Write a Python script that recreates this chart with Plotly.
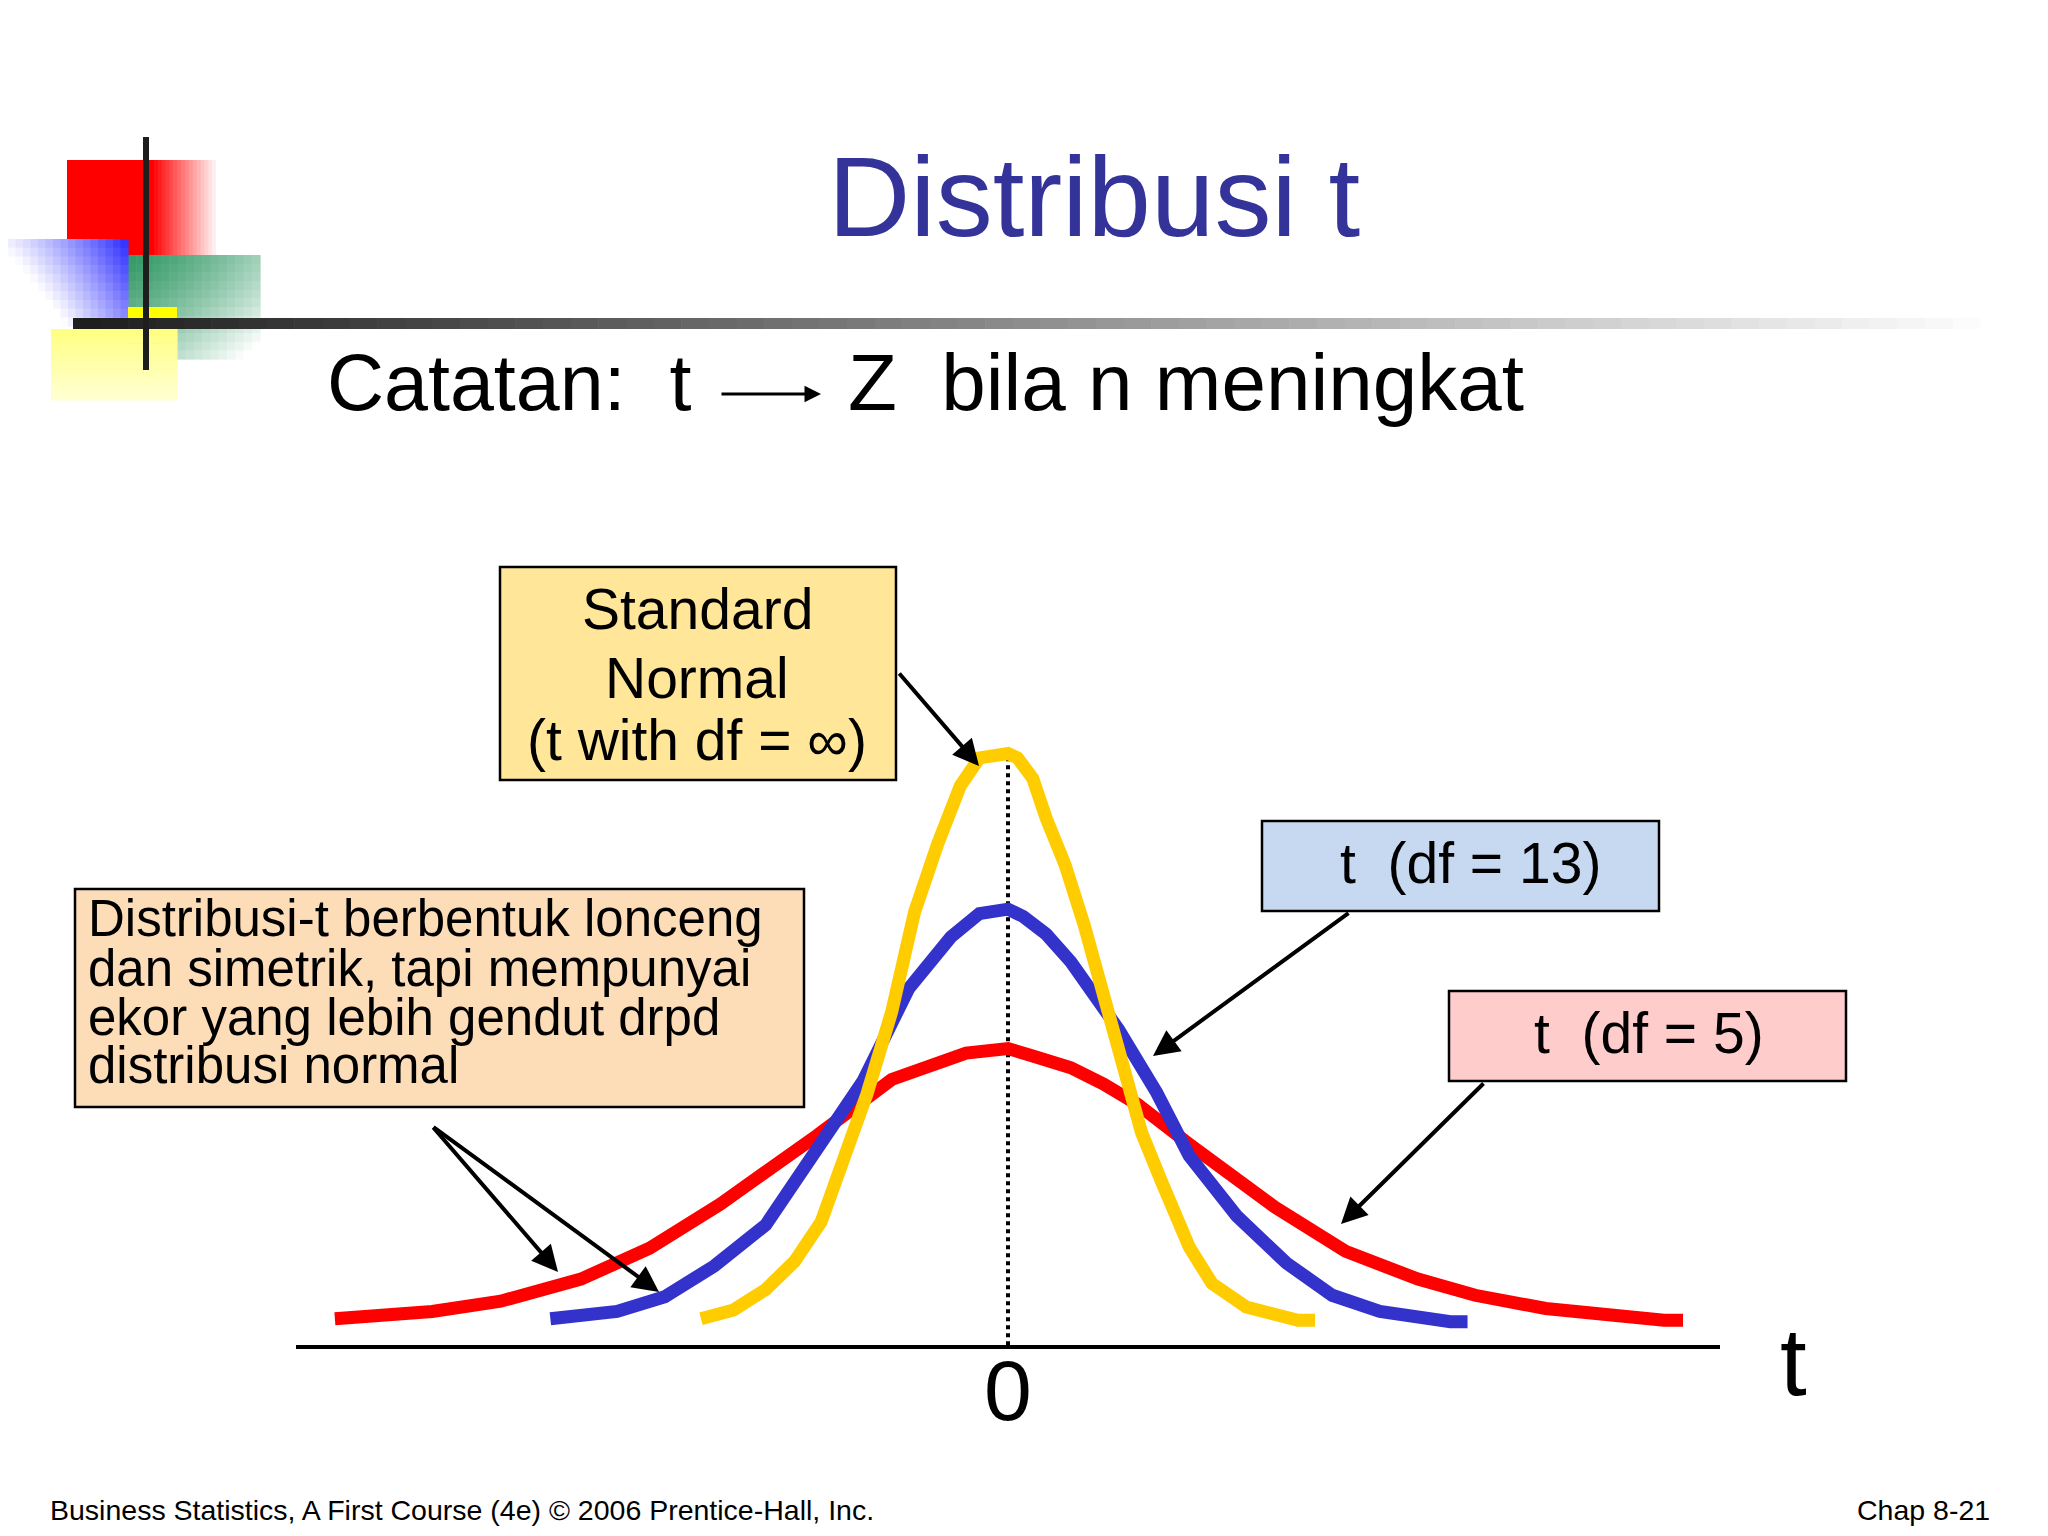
import plotly.graph_objects as go

W, H = 2048, 1536
FONT = "Liberation Sans, Arial, sans-serif"

# ---- data (t on x, density-like height on y) ----

normal_x = [-1.61, -1.44, -1.27, -1.12, -0.98, -0.86, -0.74, -0.61, -0.49, -0.37,
            -0.25, -0.15, 0.0, 0.05, 0.13, 0.20, 0.30, 0.40, 0.50, 0.60,
            0.70, 0.80, 0.95, 1.07, 1.25, 1.52, 1.61]
normal_y = [0.018, 0.024, 0.038, 0.057, 0.084, 0.125, 0.171, 0.227, 0.295, 0.341,
            0.381, 0.400, 0.403, 0.400, 0.386, 0.359, 0.327, 0.286, 0.238, 0.186,
            0.145, 0.113, 0.067, 0.042, 0.026, 0.017, 0.017]

t13_x = [-2.40, -2.05, -1.80, -1.54, -1.27, -1.00, -0.76, -0.52, -0.30, -0.15,
         0.0, 0.08, 0.20, 0.33, 0.45, 0.58, 0.78, 0.95, 1.20, 1.46,
         1.70, 1.95, 2.32, 2.41]
t13_y = [0.018, 0.023, 0.033, 0.054, 0.082, 0.132, 0.180, 0.243, 0.278, 0.294,
         0.297, 0.292, 0.280, 0.261, 0.240, 0.215, 0.172, 0.129, 0.088, 0.056,
         0.034, 0.023, 0.016, 0.016]

t5_x = [-3.53, -3.02, -2.66, -2.24, -1.88, -1.51, -1.00, -0.61, -0.22, 0.0,
        0.13, 0.33, 0.50, 0.68, 0.95, 1.40, 1.77, 2.15, 2.45, 2.82,
        3.44, 3.54]
t5_y = [0.018, 0.023, 0.030, 0.045, 0.066, 0.096, 0.143, 0.181, 0.199, 0.202,
        0.197, 0.189, 0.178, 0.164, 0.137, 0.094, 0.064, 0.045, 0.034, 0.025,
        0.017, 0.017]

center_x = [0, 0]
center_y = [0, 0.403]

tick_vals = [0]
tick_text = ["0"]

TITLE = "Distribusi t"
NOTE_LEFT = "Catatan:\u00a0 t"
NOTE_RIGHT = "Z\u00a0 bila n meningkat"
BOX_NORMAL = ["Standard", "Normal", "(t with df = \u221e)"]
BOX_T13 = "t\u00a0 (df = 13)"
BOX_T5 = "t\u00a0 (df = 5)"
BOX_TAILS = ["Distribusi-t berbentuk lonceng",
             "dan simetrik, tapi mempunyai",
             "ekor yang lebih gendut drpd",
             "distribusi normal"]
FOOTER_LEFT = "Business Statistics, A First Course (4e) \u00a9 2006 Prentice-Hall, Inc."
FOOTER_RIGHT = "Chap 8-21"


def px(x, y):
    """pixel position on the 2048x1536 page -> paper coords"""
    return x / W, 1 - y / H


def mix(c0, c1, f):
    f = max(0.0, min(1.0, f))
    return "rgb({},{},{})".format(*[round(a + (b - a) * f) for a, b in zip(c0, c1)])


shapes = []


def rect(x0, y0, x1, y1, fill, line=None, lw=0):
    a, b = px(x0, y1)
    c, d = px(x1, y0)
    shapes.append(dict(type="rect", xref="paper", yref="paper",
                       x0=a, y0=b, x1=c, y1=d, fillcolor=fill,
                       line=dict(color=line or fill, width=lw), layer="above"))


def hgrad(x0, y0, x1, y1, c0, c1, n):
    step = (x1 - x0) / n
    for i in range(n):
        rect(x0 + i * step, y0, x0 + (i + 1) * step + 0.6, y1, mix(c0, c1, i / (n - 1)))


def grid_grad(x0, y0, x1, y1, col, fn, nx=14, ny=8):
    # fn(fx, fy) -> strength of col (1) vs white (0); fy measured from top
    sx, sy = (x1 - x0) / nx, (y1 - y0) / ny
    for i in range(nx):
        for j in range(ny):
            f = fn((i + 0.5) / nx, (j + 0.5) / ny)
            rect(x0 + i * sx, y0 + j * sy, x0 + (i + 1) * sx + 0.6, y0 + (j + 1) * sy + 0.6,
                 mix((255, 255, 255), col, f))


# ---- top-left decoration ----
RED, GREEN, BLUE, YEL = (255, 0, 0), (51, 153, 102), (51, 51, 255), (255, 255, 0)
rect(59, 152, 142, 247, "rgb(255,0,0)")
hgrad(142, 152, 212, 247, RED, (255, 255, 255), 18)
grid_grad(120, 247, 252, 351, GREEN,
          lambda fx, fy: 1.0 - 0.55 * fx ** 1.3 - 0.55 * fy ** 1.3, 16, 12)
grid_grad(0, 231, 120, 318, BLUE,
          lambda fx, fy: 0.1 + 0.95 * fx ** 1.2 - 0.5 * fy, 16, 10)
rect(120, 299, 169, 311, "rgb(255,255,0)")
grid_grad(43, 321, 169, 392, YEL,
          lambda fx, fy: 0.5 - 0.33 * fy, 2, 10)
hgrad(65, 310, 2000, 321, (30, 30, 30), (255, 255, 255), 70)
rect(135, 129, 141, 362, "rgb(30,30,30)")

# ---- callout boxes ----
rect(492, 559, 888, 772, "#FFE699", "black", 2.5)
rect(67, 881, 796, 1099, "#FCDDB8", "black", 2.5)
rect(1254, 813, 1651, 903, "#C6D9F1", "black", 2.5)
rect(1441, 983, 1838, 1073, "#FFCCCC", "black", 2.5)

annotations = []


def text(s, x, y, size, color="black", xanchor="center", yanchor="middle"):
    ax_, ay_ = px(x, y)
    annotations.append(dict(text=s, x=ax_, y=ay_, xref="paper", yref="paper",
                            xanchor=xanchor, yanchor=yanchor, showarrow=False,
                            font=dict(family=FONT, size=size, color=color)))


def arrow(tx, ty, hx, hy, width=4, size=1.3):
    x, y = px(hx, hy)
    annotations.append(dict(text="", x=x, y=y, xref="paper", yref="paper",
                            ax=tx - hx, ay=ty - hy, axref="pixel", ayref="pixel",
                            showarrow=True, arrowhead=2, arrowsize=size,
                            arrowwidth=width, arrowcolor="black"))


text(TITLE, 1086, 188, 114, "#333399")
text(NOTE_LEFT, 317, 374, 79, xanchor="left")
text(NOTE_RIGHT, 838, 374, 80, xanchor="left")
arrow(712, 386, 813, 386, width=3, size=1.1)

for s, y in zip(BOX_NORMAL, [601, 670, 732]):
    text(s, 689, y, 57)
for s, y in zip(BOX_TAILS, [910, 960, 1009, 1057]):
    text(s, 78, y, 51, xanchor="left")
text(BOX_T13, 1462, 855, 57)
text(BOX_T5, 1641, 1025, 57)

arrow(890, 664, 971, 758)
arrow(1342, 904, 1145, 1048)
arrow(1477, 1074, 1333, 1216)
arrow(424, 1118, 550, 1264)
arrow(424, 1118, 651, 1284)

text("t", 1785, 1353, 96)
text(FOOTER_LEFT, 40, 1502, 28.5, xanchor="left")
text(FOOTER_RIGHT, 1984, 1502, 28.5, xanchor="right")

# ---- curves ----
fig = go.Figure()
fig.add_trace(go.Scatter(x=center_x, y=center_y, mode="lines",
                         line=dict(color="black", width=4, dash="dot"),
                         hoverinfo="skip", showlegend=False))
fig.add_trace(go.Scatter(x=t5_x, y=t5_y, mode="lines", name="t (df = 5)",
                         line=dict(color="#FF0000", width=13), showlegend=False))
fig.add_trace(go.Scatter(x=t13_x, y=t13_y, mode="lines", name="t (df = 13)",
                         line=dict(color="#3333CC", width=13), showlegend=False))
fig.add_trace(go.Scatter(x=normal_x, y=normal_y, mode="lines", name="Standard Normal",
                         line=dict(color="#FFCC00", width=13), showlegend=False))

fig.update_xaxes(domain=[287.8 / W, 1712.2 / W], range=[-3.735, 3.735],
                 showline=True, linecolor="black", linewidth=4, mirror=False,
                 showgrid=False, zeroline=False, ticks="",
                 tickvals=tick_vals, ticktext=tick_text, ticklabelstandoff=-32,
                 tickfont=dict(family=FONT, size=86, color="black"),
                 fixedrange=True)
fig.update_yaxes(domain=[1 - 1337.2 / H, 1 - 676.5 / H], range=[0, 0.45],
                 visible=False, fixedrange=True)

fig.update_layout(width=W, height=H, margin=dict(l=0, r=0, t=0, b=0),
                  paper_bgcolor="white", plot_bgcolor="rgba(0,0,0,0)",
                  shapes=shapes, annotations=annotations, showlegend=False)

fig.write_html("out.html")
